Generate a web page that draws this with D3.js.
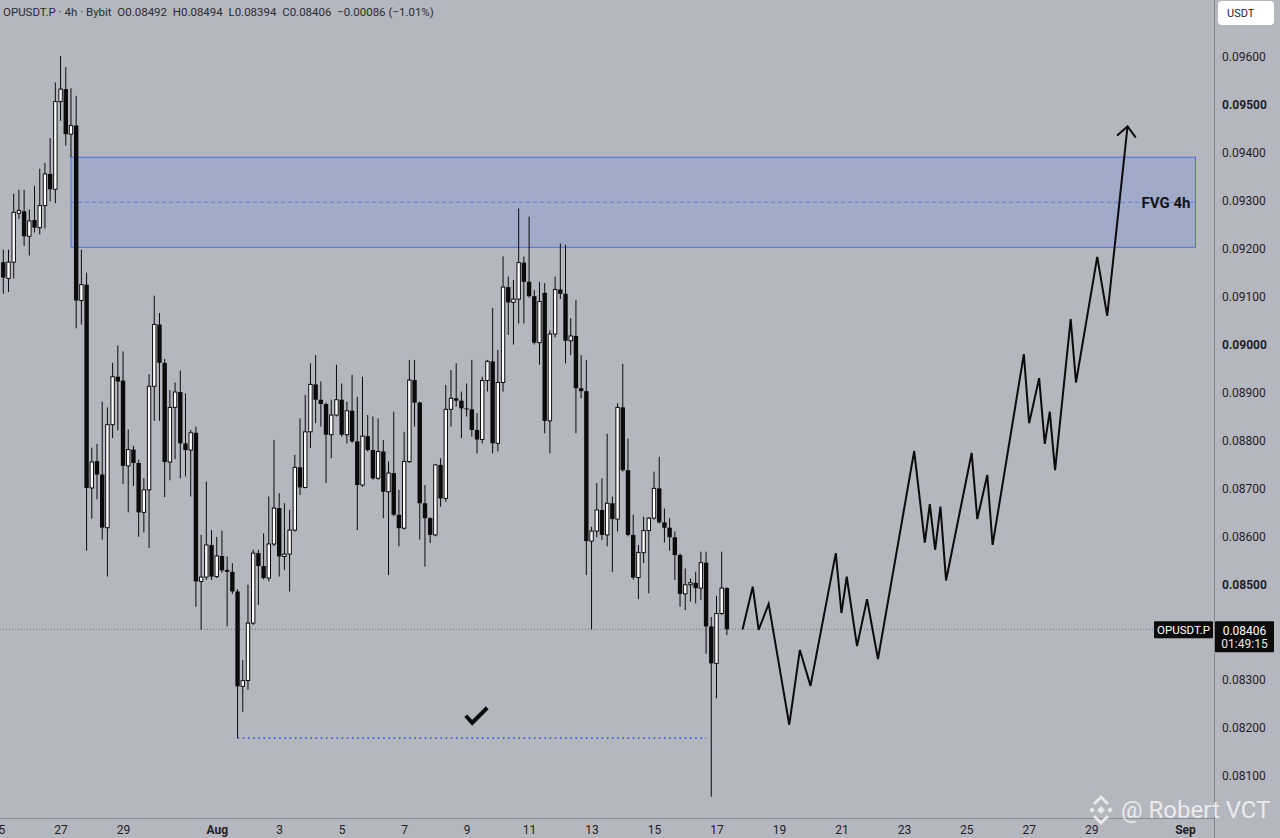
<!DOCTYPE html>
<html>
<head>
<meta charset="utf-8">
<script src="https://cdn.jsdelivr.net/npm/d3@7"></script>
<style>
  html, body { margin: 0; padding: 0; background: #b5b7be; }
  svg { display: block; }
  text { font-family: Roboto, "Noto Sans", sans-serif; }
</style>
</head>
<body>
<svg id="chart" width="1280" height="838"></svg>
<script>
// ---------------- DATA ----------------
const firstCandle = "2024-07-25T04:00:00Z";   // 4h candles
const candleOpen = [
0.09172,0.09138,0.09172,0.09274,0.09278,0.09226,0.09260,0.09244,0.09290,0.09356,
0.09324,0.09507,0.09533,0.09439,0.09457,0.09092,0.09125,0.08701,0.08757,0.08729,
0.08618,0.08833,0.08933,0.08925,0.08747,0.08781,0.08753,0.08650,0.08697,0.08913,
0.09042,0.08962,0.08755,0.08869,0.08901,0.08794,0.08780,0.08816,0.08506,0.08515,
0.08582,0.08516,0.08559,0.08530,0.08526,0.08485,0.08287,0.08299,0.08419,0.08565,
0.08538,0.08513,0.08584,0.08659,0.08558,0.08563,0.08613,0.08744,0.08702,0.08818,
0.08917,0.08885,0.08876,0.08812,0.08853,0.08885,0.08812,0.08862,0.08798,0.08707,
0.08809,0.08780,0.08721,0.08777,0.08693,0.08732,0.08645,0.08617,0.08756,0.08926,
0.08879,0.08669,0.08638,0.08603,0.08749,0.08679,0.08865,0.08888,0.08883,0.08867,
0.08865,0.08822,0.08802,0.08925,0.08965,0.08794,0.08921,0.09120,0.09088,0.09095,
0.09171,0.09131,0.09101,0.09004,0.09108,0.08841,0.09022,0.09115,0.09106,0.09008,
0.09018,0.08909,0.08903,0.08590,0.08611,0.08655,0.08603,0.08669,0.08636,0.08869,
0.08738,0.08603,0.08514,0.08566,0.08612,0.08638,0.08700,0.08629,0.08618,0.08598,
0.08561,0.08480,0.08499,0.08503,0.08492,0.08545,0.08412,0.08335,0.08439,0.08492];
const candleHigh = [
0.09198,0.09198,0.09315,0.09323,0.09323,0.09282,0.09331,0.09367,0.09379,0.09431,
0.09547,0.09602,0.09579,0.09535,0.09519,0.09198,0.09150,0.08785,0.08793,0.08881,
0.08869,0.08962,0.08998,0.08986,0.08823,0.08789,0.08760,0.08721,0.08938,0.09102,
0.09066,0.08970,0.08905,0.08921,0.08946,0.08898,0.08822,0.08829,0.08603,0.08714,
0.08613,0.08599,0.08612,0.08558,0.08544,0.08490,0.08342,0.08499,0.08572,0.08572,
0.08606,0.08683,0.08801,0.08690,0.08669,0.08655,0.08770,0.08846,0.08895,0.08961,
0.08978,0.08923,0.08879,0.08885,0.08958,0.08919,0.08881,0.08937,0.08891,0.08933,
0.08853,0.08850,0.08846,0.08801,0.08756,0.08860,0.08697,0.08818,0.08968,0.08968,
0.08881,0.08707,0.08640,0.08751,0.08763,0.08916,0.08947,0.08961,0.08902,0.08919,
0.08968,0.08857,0.08933,0.08968,0.09076,0.08989,0.09184,0.09142,0.09135,0.09284,
0.09184,0.09267,0.09114,0.09131,0.09128,0.09030,0.09142,0.09211,0.09208,0.09055,
0.09093,0.08978,0.08968,0.08620,0.08711,0.08721,0.08814,0.08683,0.08878,0.08960,
0.08804,0.08645,0.08582,0.08641,0.08640,0.08735,0.08766,0.08658,0.08638,0.08610,
0.08564,0.08533,0.08512,0.08526,0.08568,0.08568,0.08432,0.08476,0.08568,0.08494];
const candleLow = [
0.09106,0.09110,0.09138,0.09262,0.09206,0.09186,0.09234,0.09230,0.09242,0.09299,
0.09295,0.09467,0.09415,0.09391,0.09034,0.09042,0.08570,0.08637,0.08677,0.08593,
0.08516,0.08805,0.08821,0.08709,0.08650,0.08705,0.08599,0.08608,0.08576,0.08841,
0.08841,0.08682,0.08717,0.08761,0.08721,0.08725,0.08683,0.08453,0.08405,0.08509,
0.08509,0.08513,0.08524,0.08412,0.08480,0.08179,0.08234,0.08280,0.08415,0.08457,
0.08510,0.08506,0.08580,0.08516,0.08530,0.08485,0.08610,0.08686,0.08700,0.08784,
0.08836,0.08829,0.08711,0.08763,0.08850,0.08808,0.08794,0.08795,0.08613,0.08703,
0.08777,0.08718,0.08718,0.08638,0.08519,0.08642,0.08579,0.08614,0.08753,0.08829,
0.08593,0.08537,0.08586,0.08600,0.08662,0.08672,0.08829,0.08871,0.08805,0.08850,
0.08808,0.08773,0.08794,0.08902,0.08773,0.08777,0.08902,0.09020,0.09000,0.09044,
0.09044,0.09098,0.09000,0.08958,0.08815,0.08773,0.09015,0.09095,0.08961,0.08978,
0.08815,0.08888,0.08519,0.08406,0.08598,0.08592,0.08579,0.08526,0.08610,0.08735,
0.08600,0.08510,0.08469,0.08544,0.08481,0.08635,0.08627,0.08587,0.08570,0.08509,
0.08453,0.08446,0.08464,0.08460,0.08467,0.08355,0.08057,0.08262,0.08436,0.08394];
const candleClose = [
0.09140,0.09172,0.09276,0.09280,0.09226,0.09258,0.09244,0.09290,0.09356,0.09324,
0.09507,0.09533,0.09439,0.09457,0.09092,0.09125,0.08701,0.08755,0.08729,0.08618,
0.08833,0.08933,0.08923,0.08747,0.08781,0.08753,0.08650,0.08697,0.08913,0.09042,
0.08962,0.08755,0.08869,0.08901,0.08794,0.08780,0.08816,0.08506,0.08515,0.08582,
0.08516,0.08559,0.08529,0.08526,0.08485,0.08287,0.08299,0.08419,0.08565,0.08538,
0.08513,0.08584,0.08659,0.08558,0.08563,0.08613,0.08744,0.08702,0.08818,0.08917,
0.08885,0.08876,0.08812,0.08853,0.08885,0.08812,0.08862,0.08798,0.08707,0.08809,
0.08780,0.08721,0.08777,0.08693,0.08732,0.08645,0.08617,0.08756,0.08926,0.08879,
0.08669,0.08638,0.08603,0.08749,0.08679,0.08865,0.08888,0.08883,0.08867,0.08865,
0.08822,0.08802,0.08925,0.08965,0.08794,0.08921,0.09120,0.09088,0.09095,0.09171,
0.09131,0.09101,0.09004,0.09090,0.08841,0.09022,0.09115,0.09106,0.09008,0.09018,
0.08909,0.08903,0.08590,0.08611,0.08655,0.08603,0.08669,0.08636,0.08869,0.08738,
0.08603,0.08514,0.08566,0.08612,0.08638,0.08700,0.08629,0.08618,0.08598,0.08561,
0.08480,0.08499,0.08503,0.08492,0.08545,0.08412,0.08335,0.08439,0.08492,0.08406];

// projected path: days after Aug 1 00:00 UTC, price
const projDays  = [16.84,17.16,17.35,17.67,18.33,18.67,19.01,19.82,20.00,20.17,20.50,20.82,21.17,
                   22.33,22.67,22.83,23.00,23.17,23.35,24.17,24.35,24.67,24.84,25.84,26.01,26.33,
                   26.51,26.67,26.84,27.34,27.51,28.19,28.51,29.16];
const projPrice = [0.08407,0.08495,0.08405,0.08459,0.08207,0.08363,0.08288,0.08565,0.08440,0.08516,
                   0.08371,0.08469,0.08344,0.08778,0.08587,0.08667,0.08572,0.08662,0.08508,0.08774,
                   0.08636,0.08728,0.08582,0.08980,0.08836,0.08930,0.08793,0.08860,0.08738,0.09053,
                   0.08921,0.09183,0.09060,0.09455];

// FVG zone
const fvgTop = 0.09391, fvgBottom = 0.09203, fvgMid = 0.09297;
const fvgStart = "2024-07-27T08:00:00Z", fvgEnd = "2024-09-01T08:00:00Z";
const fvgLabel = "FVG 4h";
// swept low line
const lowLevel = 0.08179, lowStart = "2024-08-01T16:00:00Z", lowEnd = "2024-08-16T16:00:00Z";
const checkDay = 8.18, checkPrice = 0.08209;

const lastPrice = 0.08406;
const symbol = "OPUSDT.P";
const countdown = "01:49:15";
const headerText = "OPUSDT.P · 4h · Bybit  O0.08492  H0.08494  L0.08394  C0.08406  −0.00086 (−1.01%)";

const yTicks = [0.081,0.082,0.083,0.084,0.085,0.086,0.087,0.088,0.089,0.090,0.091,0.092,0.093,0.094,0.095,0.096];
const yBold = [0.085,0.090,0.095];
const xTickDates = ["2024-07-25","2024-07-27","2024-07-29","2024-08-01","2024-08-03","2024-08-05","2024-08-07",
  "2024-08-09","2024-08-11","2024-08-13","2024-08-15","2024-08-17","2024-08-19","2024-08-21","2024-08-23",
  "2024-08-25","2024-08-27","2024-08-29","2024-09-01"];
const xTickLabels = ["25","27","29","Aug","3","5","7","9","11","13","15","17","19","21","23","25","27","29","Sep"];

// ---------------- CHART ----------------
const W = 1280, H = 838, plotR = 1214, plotB = 818;
const svg = d3.select("#chart");
const bg = "#b5b7be";
svg.append("rect").attr("width", W).attr("height", H).attr("fill", bg);

const HOUR = 3600000;
const t0 = new Date(firstCandle);
const x = d3.scaleUtc()
  .domain([t0, new Date("2024-09-01T00:00:00Z")])
  .range([3.3, 1185]);
const y = d3.scaleLinear().domain([0.081, 0.096]).range([776, 57]);

const candles = candleOpen.map((o, i) => ({
  t: new Date(t0.getTime() + i * 4 * HOUR),
  o, h: candleHigh[i], l: candleLow[i], c: candleClose[i]
}));

svg.append("defs").append("clipPath").attr("id", "plotClip")
  .append("rect").attr("x", 0).attr("y", 0).attr("width", plotR).attr("height", plotB);
const plot = svg.append("g").attr("clip-path", "url(#plotClip)");

// FVG box
const fx0 = x(new Date(fvgStart)), fx1 = x(new Date(fvgEnd));
plot.append("rect")
  .attr("x", fx0).attr("y", y(fvgTop))
  .attr("width", fx1 - fx0).attr("height", y(fvgBottom) - y(fvgTop))
  .attr("fill", "rgba(41,98,255,0.14)")
  .attr("stroke", "rgba(50,90,230,0.75)").attr("stroke-width", 1);
plot.append("line")
  .attr("x1", fx0).attr("x2", fx1).attr("y1", y(fvgMid)).attr("y2", y(fvgMid))
  .attr("stroke", "rgba(60,95,220,0.6)").attr("stroke-width", 1).attr("stroke-dasharray", "4,3");
plot.append("text")
  .attr("x", fx1 - 5).attr("y", y(fvgMid)).attr("dy", "0.36em")
  .attr("text-anchor", "end").attr("font-size", 15).attr("font-weight", 700)
  .attr("fill", "#131416").text(fvgLabel);

// last price dotted line
plot.append("line")
  .attr("x1", 0).attr("x2", plotR).attr("y1", y(lastPrice)).attr("y2", y(lastPrice))
  .attr("stroke", "#6f737c").attr("stroke-width", 1).attr("stroke-dasharray", "1,2");

// swept low dotted line
plot.append("line")
  .attr("x1", x(new Date(lowStart))).attr("x2", x(new Date(lowEnd)))
  .attr("y1", y(lowLevel)).attr("y2", y(lowLevel))
  .attr("stroke", "#3d5fd8").attr("stroke-width", 1.6).attr("stroke-dasharray", "1.6,3.6");

// candles
const cg = plot.append("g");
cg.selectAll("line.wick").data(candles).join("line")
  .attr("class", "wick")
  .attr("x1", d => x(d.t)).attr("x2", d => x(d.t))
  .attr("y1", d => y(d.h)).attr("y2", d => y(d.l))
  .attr("stroke", "#0b0b0c").attr("stroke-width", 1);
cg.selectAll("rect.body").data(candles).join("rect")
  .attr("class", "body")
  .attr("x", d => d.c >= d.o ? x(d.t) - 1.7 : x(d.t) - 2.2)
  .attr("width", d => d.c >= d.o ? 3.4 : 4.4)
  .attr("y", d => y(Math.max(d.o, d.c)))
  .attr("height", d => Math.max(1, Math.abs(y(d.o) - y(d.c))))
  .attr("fill", d => d.c >= d.o ? "#ffffff" : "#0b0b0c")
  .attr("stroke", d => d.c >= d.o ? "#0b0b0c" : "none")
  .attr("stroke-width", 1);

// projected path
const AUG1 = Date.UTC(2024, 7, 1);
const proj = projDays.map((d, i) => [x(new Date(AUG1 + d * 24 * HOUR)), y(projPrice[i])]);
plot.append("path")
  .attr("d", d3.line()(proj))
  .attr("fill", "none").attr("stroke", "#0b0b0c").attr("stroke-width", 2)
  .attr("stroke-linejoin", "miter").attr("stroke-linecap", "round");
// arrow head
{
  const [ax, ay] = proj[proj.length - 1], [bx, by] = proj[proj.length - 2];
  const ang = Math.atan2(by - ay, bx - ax);
  const L = 13, spread = Math.PI / 4.2;
  const p1 = [ax + L * Math.cos(ang + spread), ay + L * Math.sin(ang + spread)];
  const p2 = [ax + L * Math.cos(ang - spread), ay + L * Math.sin(ang - spread)];
  plot.append("path").attr("d", d3.line()([p1, [ax, ay], p2]))
    .attr("fill", "none").attr("stroke", "#0b0b0c").attr("stroke-width", 2)
    .attr("stroke-linejoin", "miter").attr("stroke-linecap", "round");
}
// check mark
{
  const cx = x(new Date(AUG1 + checkDay * 24 * HOUR)), cy = y(checkPrice);
  plot.append("path")
    .attr("d", d3.line()([[cx - 6.5, cy - 8], [cx, cy - 1], [cx + 15, cy - 16]]))
    .attr("fill", "none").attr("stroke", "#0b0b0c").attr("stroke-width", 4)
    .attr("stroke-linejoin", "miter").attr("stroke-linecap", "butt");
}

// axes separators
svg.append("line").attr("x1", plotR + 0.5).attr("x2", plotR + 0.5).attr("y1", 0).attr("y2", H)
  .attr("stroke", "#85888f").attr("stroke-width", 1);
svg.append("line").attr("x1", 0).attr("x2", plotR).attr("y1", plotB + 0.5).attr("y2", plotB + 0.5)
  .attr("stroke", "#8a8d94").attr("stroke-width", 1);

// y axis
const yAxis = d3.axisRight(y).tickValues(yTicks).tickFormat(d3.format(".5f")).tickSize(0).tickPadding(8);
const yg = svg.append("g").attr("transform", `translate(${plotR},0)`).call(yAxis);
yg.select(".domain").remove();
yg.selectAll("text")
  .attr("font-size", 12).attr("fill", "#1f2126")
  .attr("font-family", "Roboto, sans-serif")
  .attr("font-weight", d => yBold.some(b => Math.abs(b - d) < 1e-9) ? 700 : 400);

// x axis
const xDates = xTickDates.map(s => new Date(s + "T00:00:00Z"));
const xAxis = d3.axisBottom(x).tickValues(xDates)
  .tickFormat((d, i) => xTickLabels[i]).tickSize(0).tickPadding(7);
const xg = svg.append("g").attr("transform", `translate(0,${plotB})`).call(xAxis);
xg.select(".domain").remove();
xg.selectAll("text")
  .attr("font-size", 12).attr("fill", "#1f2126")
  .attr("font-family", "Roboto, sans-serif")
  .attr("font-weight", (d, i) => (xTickLabels[i] === "Aug" || xTickLabels[i] === "Sep") ? 700 : 400);

// header
svg.append("text").attr("x", 3).attr("y", 16)
  .attr("font-size", 11.5).attr("fill", "#2a2c33")
  .attr("xml:space", "preserve")
  .text(headerText);

// USDT box
svg.append("rect").attr("x", 1218).attr("y", 1).attr("width", 56).attr("height", 24)
  .attr("rx", 4).attr("fill", "#ffffff");
svg.append("text").attr("x", 1227).attr("y", 13).attr("dy", "0.35em")
  .attr("font-size", 11).attr("fill", "#1f2126").text("USDT");

// last price labels
const ly = y(lastPrice);
svg.append("rect").attr("x", 1154).attr("y", ly - 8).attr("width", 59).attr("height", 17)
  .attr("rx", 1).attr("fill", "#0b0b0c");
svg.append("text").attr("x", 1183.5).attr("y", ly + 0.5).attr("dy", "0.35em")
  .attr("text-anchor", "middle").attr("font-size", 11.5).attr("fill", "#ffffff").text(symbol);
svg.append("rect").attr("x", 1215).attr("y", ly - 8).attr("width", 59).attr("height", 31)
  .attr("rx", 1).attr("fill", "#0b0b0c");
svg.append("text").attr("x", 1244.5).attr("y", ly + 1).attr("dy", "0.35em")
  .attr("text-anchor", "middle").attr("font-size", 12).attr("fill", "#ffffff")
  .text(d3.format(".5f")(lastPrice));
svg.append("text").attr("x", 1244.5).attr("y", ly + 14.5).attr("dy", "0.35em")
  .attr("text-anchor", "middle").attr("font-size", 12).attr("fill", "#e8e8ea").text(countdown);

// watermark
{
  const wm = svg.append("g").attr("opacity", 0.85);
  const lx = 1101, lyy = 810;
  const dia = (cx, cy, s) => wm.append("rect").attr("x", cx - s / 2).attr("y", cy - s / 2)
    .attr("width", s).attr("height", s).attr("fill", "#f4f4f6")
    .attr("transform", `rotate(45 ${cx} ${cy})`);
  dia(lx, lyy, 5.5);
  dia(lx - 9, lyy, 4);
  dia(lx + 9, lyy, 4);
  wm.append("path").attr("d", `M${lx - 7},${lyy - 6} L${lx},${lyy - 13} L${lx + 7},${lyy - 6}`)
    .attr("fill", "none").attr("stroke", "#f4f4f6").attr("stroke-width", 3);
  wm.append("path").attr("d", `M${lx - 7},${lyy + 6} L${lx},${lyy + 13} L${lx + 7},${lyy + 6}`)
    .attr("fill", "none").attr("stroke", "#f4f4f6").attr("stroke-width", 3);
  wm.append("text").attr("x", 1121).attr("y", 818)
    .attr("font-family", "'Open Sans', 'Noto Sans', sans-serif")
    .attr("font-size", 24).attr("fill", "#f4f4f6").text("@ Robert VCT");
}
</script>
</body>
</html>
